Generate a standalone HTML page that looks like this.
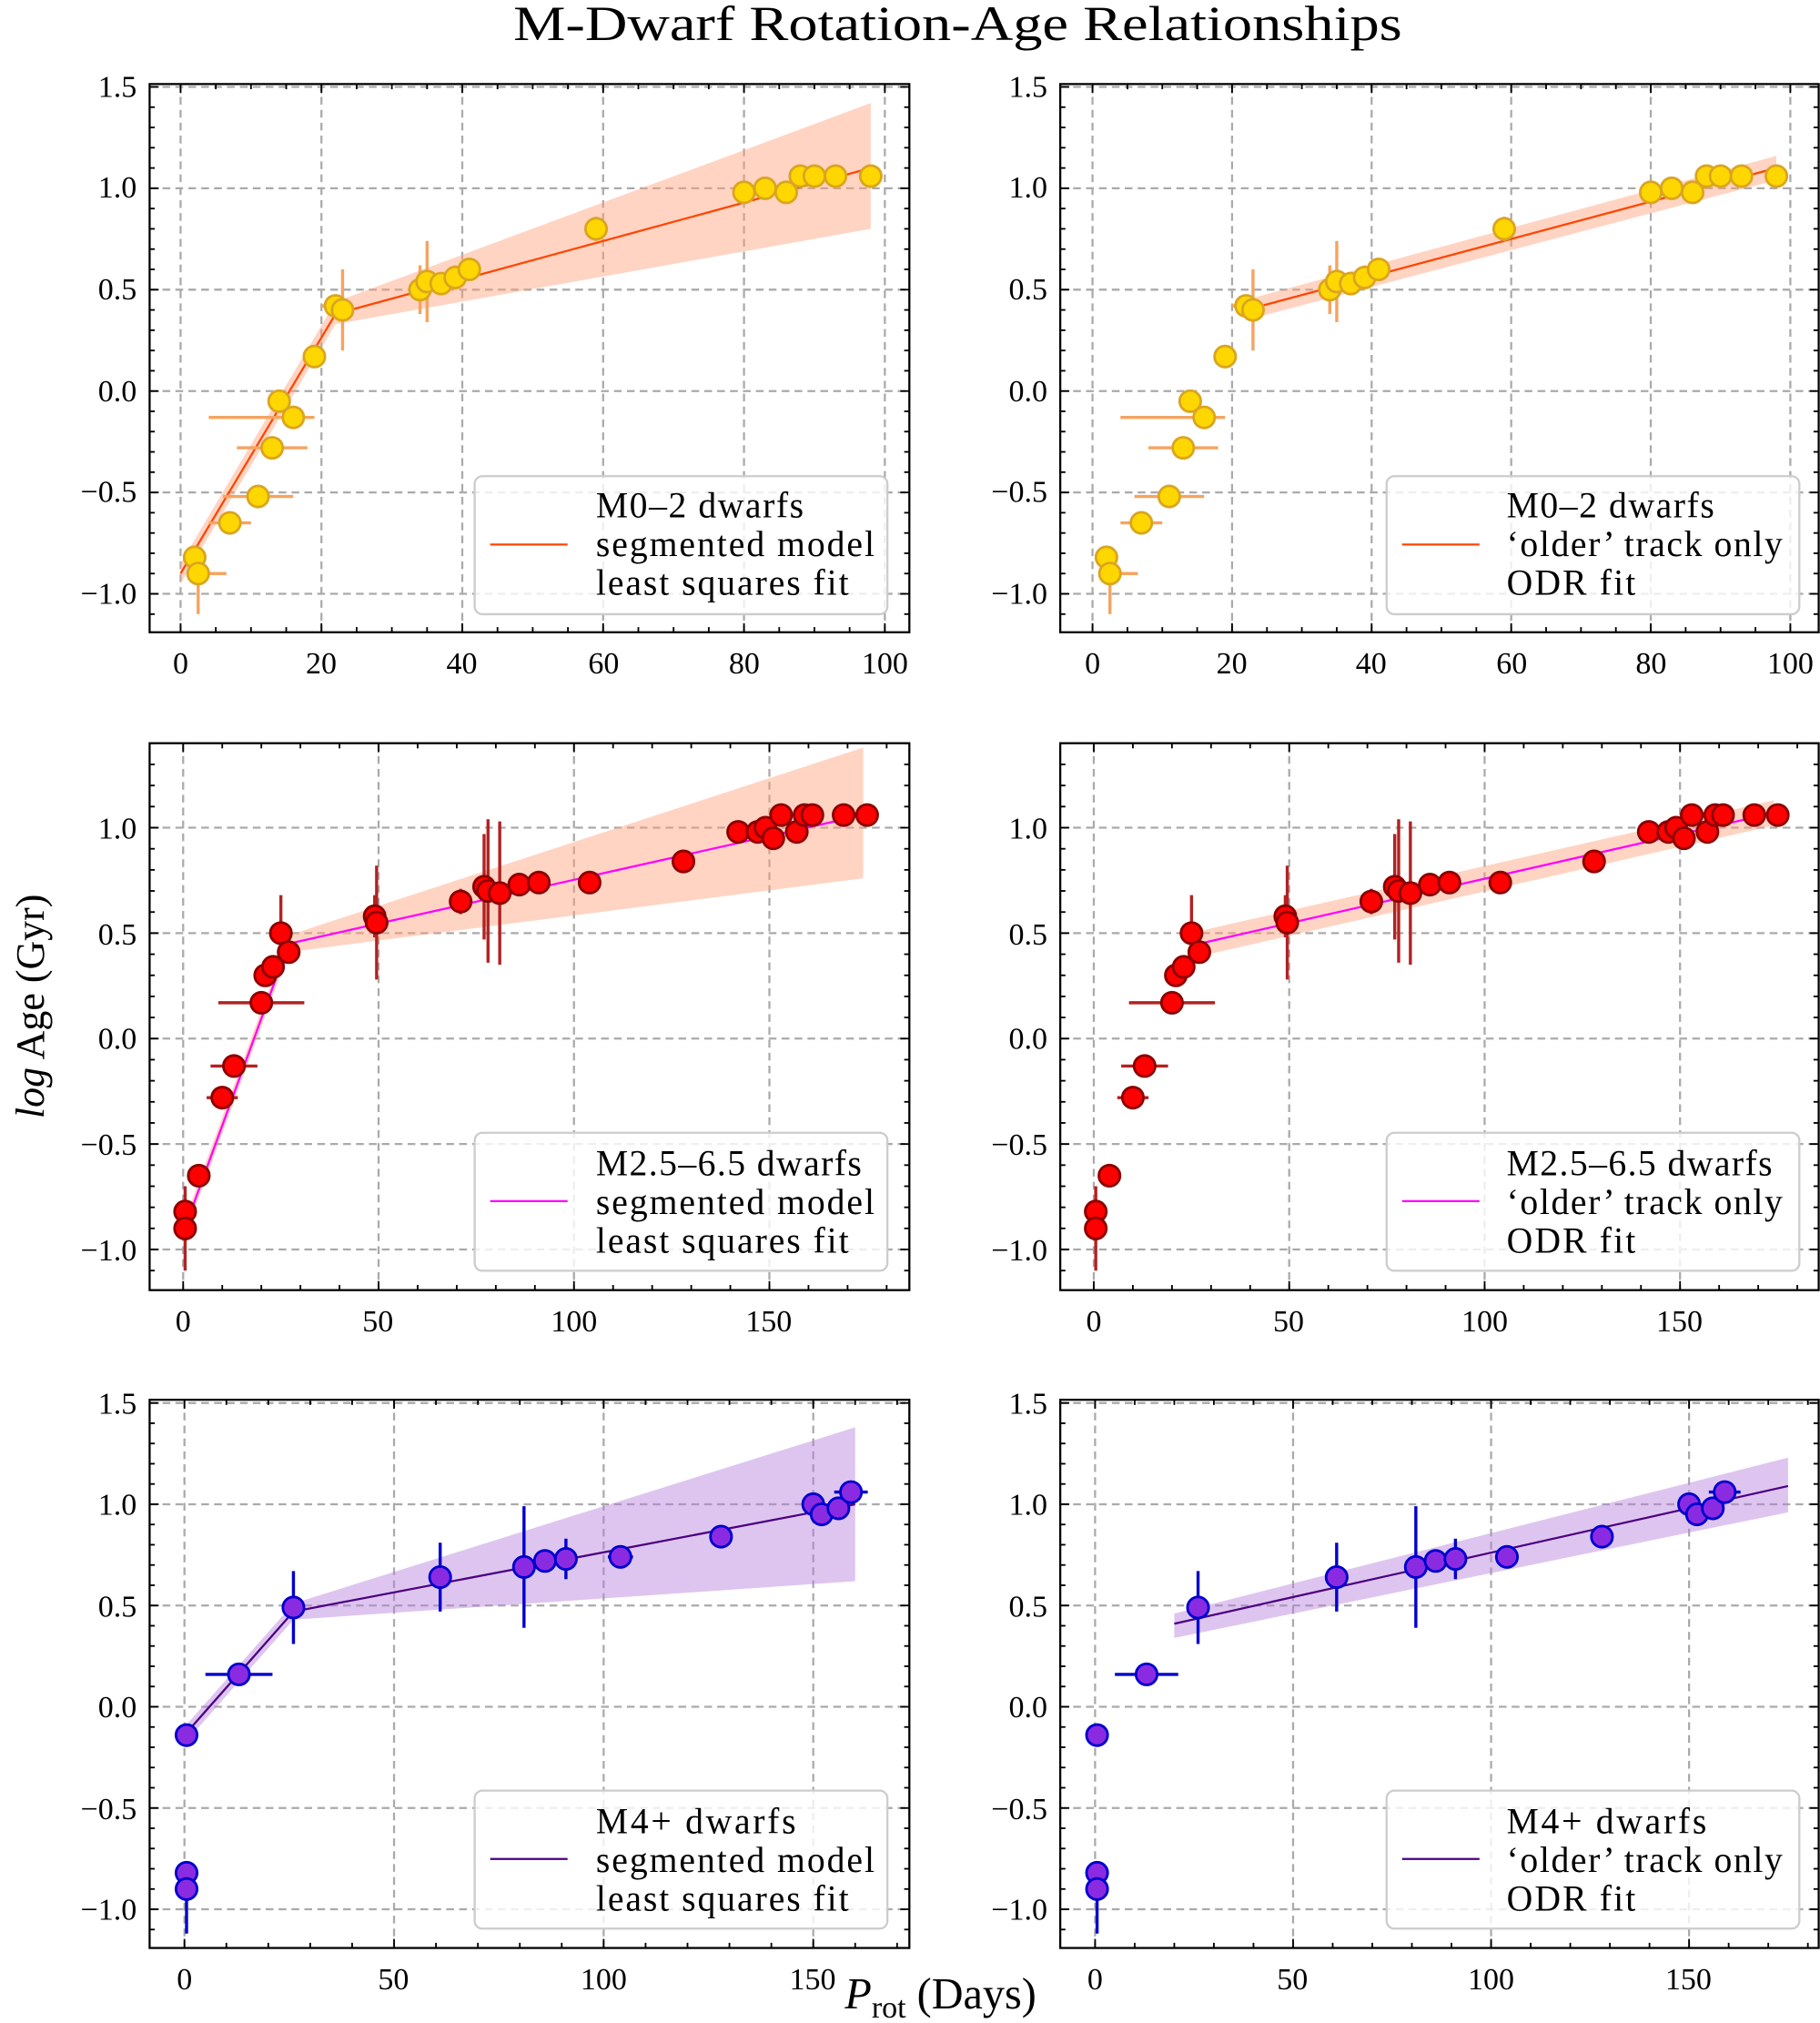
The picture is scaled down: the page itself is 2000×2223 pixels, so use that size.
<!DOCTYPE html>
<html><head><meta charset="utf-8"><style>
html,body{margin:0;padding:0;background:#fff;}
svg{display:block;}
text{font-family:"Liberation Serif","DejaVu Serif",serif;fill:#000;}
.t{font-size:24px;}
.lg{font-size:28px;}
</style></head><body>
<svg id="s" width="2000" height="2223" viewBox="0 0 1411 1568" xmlns="http://www.w3.org/2000/svg">
<rect width="1411" height="1568" fill="#fff"/>
<g id="plots"></g>
<text x="398" y="31" font-size="38" textLength="689" lengthAdjust="spacingAndGlyphs">M-Dwarf Rotation-Age Relationships</text>
<text transform="translate(34,780) rotate(-90)" font-size="31" text-anchor="middle"><tspan font-style="italic">log</tspan> Age (Gyr)</text>
<text x="655" y="1557" font-size="34"><tspan font-style="italic">P</tspan><tspan font-size="24" dy="7">rot</tspan><tspan dy="-7"> (Days)</tspan></text>

<g class="t" text-anchor="end">
<text x="106" y="75">1.5</text><text x="106" y="153">1.0</text><text x="106" y="232">0.5</text><text x="106" y="311">0.0</text><text x="106" y="389">−0.5</text><text x="106" y="468">−1.0</text>
<text x="812" y="75">1.5</text><text x="812" y="153">1.0</text><text x="812" y="232">0.5</text><text x="812" y="311">0.0</text><text x="812" y="389">−0.5</text><text x="812" y="468">−1.0</text>
<text x="106" y="650">1.0</text><text x="106" y="732">0.5</text><text x="106" y="813">0.0</text><text x="106" y="895">−0.5</text><text x="106" y="977">−1.0</text>
<text x="812" y="650">1.0</text><text x="812" y="732">0.5</text><text x="812" y="813">0.0</text><text x="812" y="895">−0.5</text><text x="812" y="977">−1.0</text>
<text x="106" y="1096">1.5</text><text x="106" y="1174">1.0</text><text x="106" y="1253">0.5</text><text x="106" y="1331">0.0</text><text x="106" y="1410">−0.5</text><text x="106" y="1488">−1.0</text>
<text x="812" y="1096">1.5</text><text x="812" y="1174">1.0</text><text x="812" y="1253">0.5</text><text x="812" y="1331">0.0</text><text x="812" y="1410">−0.5</text><text x="812" y="1488">−1.0</text>
</g>
<g class="t" text-anchor="middle">
<text x="140" y="522">0</text><text x="249" y="522">20</text><text x="358" y="522">40</text><text x="468" y="522">60</text><text x="577" y="522">80</text><text x="686" y="522">100</text>
<text x="847" y="522">0</text><text x="955" y="522">20</text><text x="1063" y="522">40</text><text x="1172" y="522">60</text><text x="1280" y="522">80</text><text x="1388" y="522">100</text>
<text x="142" y="1032">0</text><text x="293" y="1032">50</text><text x="445" y="1032">100</text><text x="596" y="1032">150</text>
<text x="848" y="1032">0</text><text x="999" y="1032">50</text><text x="1151" y="1032">100</text><text x="1302" y="1032">150</text>
<text x="143" y="1542">0</text><text x="305" y="1542">50</text><text x="468" y="1542">100</text><text x="630" y="1542">150</text>
<text x="849" y="1542">0</text><text x="1002" y="1542">50</text><text x="1156" y="1542">100</text><text x="1309" y="1542">150</text>
</g>
<g id="legends"></g>
<g class="lg" lengthAdjust="spacingAndGlyphs">
<text x="462" y="401" textLength="161">M0–2 dwarfs</text><text x="462" y="431" textLength="216">segmented model</text><text x="462" y="461" textLength="196">least squares fit</text>
<text x="1168" y="401" textLength="161">M0–2 dwarfs</text><text x="1168" y="431" textLength="214">‘older’ track only</text><text x="1168" y="461" textLength="100">ODR fit</text>
<text x="462" y="911" textLength="206">M2.5–6.5 dwarfs</text><text x="462" y="941" textLength="216">segmented model</text><text x="462" y="971" textLength="196">least squares fit</text>
<text x="1168" y="911" textLength="206">M2.5–6.5 dwarfs</text><text x="1168" y="941" textLength="214">‘older’ track only</text><text x="1168" y="971" textLength="100">ODR fit</text>
<text x="462" y="1421" textLength="155">M4+ dwarfs</text><text x="462" y="1451" textLength="216">segmented model</text><text x="462" y="1481" textLength="196">least squares fit</text>
<text x="1168" y="1421" textLength="155">M4+ dwarfs</text><text x="1168" y="1451" textLength="214">‘older’ track only</text><text x="1168" y="1481" textLength="100">ODR fit</text>
</g>
</svg>
<script>
(function(){
const NS="http://www.w3.org/2000/svg";
const G=document.getElementById('plots'), L=document.getElementById('legends');
function el(p,t,a){const e=document.createElementNS(NS,t);for(const k in a)e.setAttribute(k,a[k]);p.appendChild(e);return e;}
const dTop=[[2,-0.82,0,0],[2.5,-0.9,[0.5,4],[0.2,0.05]],[7,-0.65,3,0],[11,-0.52,[5,5],0.03],[13,-0.28,[5,5],0.03],[14,-0.05,0,0.03],[16,-0.13,[12,3],0.03],[19,0.17,0,0],[22,0.42,2,0.05],[23,0.4,1,0.2],[34,0.5,0,0.12],[35,0.54,0,0.2],[37,0.53,0,0],[39,0.56,0,0.06],[41,0.6,0,0],[59,0.8,0,0.06],[80,0.98,0,0],[83,1.0,0,0.05],[86,0.98,0,0.02],[88,1.06,0,0],[90,1.06,0,0],[93,1.06,0,0],[98,1.06,0,0]];
const dMid=[[0.5,-0.82,0,0],[0.5,-0.9,0,0.2],[4,-0.65,0,0],[10,-0.28,4,0],[13,-0.13,6,0],[20,0.17,11,0],[21,0.3,0,0],[23,0.34,0,0],[25,0.5,0,0.18],[27,0.41,0,0],[49,0.58,0,0.1],[49.5,0.55,0,0.27],[71,0.65,0,0.06],[77,0.72,0,0.25],[78,0.7,0,0.34],[81,0.69,0,0.34],[86,0.73,0,0],[91,0.74,0,0.05],[104,0.74,2,0],[128,0.84,0,0],[142,0.98,0,0],[147,0.98,0,0],[149,1.0,0,0],[151,0.95,0,0],[153,1.06,0,0],[157,0.98,0,0.05],[159,1.06,0,0],[161,1.06,0,0],[169,1.06,0,0],[175,1.06,0,0]];
const dBot=[[0.5,-0.82,0,0],[0.5,-0.9,0,[0.22,0.05]],[0.5,-0.14,0,0.05],[13,0.16,8,0],[26,0.49,0,0.18],[61,0.64,0,0.17],[81,0.69,0,0.3],[86,0.72,0,0],[91,0.73,0,0.1],[104,0.74,3,0],[128,0.84,0,0],[150,1.0,0,0],[152,0.95,0,0],[156,0.98,0,0],[159,1.06,4,0]];
const P=[
 {b:[116,65,705,490],x0:140,xs:5.46,y0:303,ys:157.2,xt:20,xm:5,yt:[-1,1.5],d:dTop,fc:'#ffd700',ec:'#daa520',erc:'#f4a460',lc:'#ff4500',bc:'#ffa07a',
  line:[[0,-0.9],[22,0.38],[98,1.1]],band:[[0,-0.95,-0.85],[22,0.33,0.44],[98,0.8,1.42]]},
 {b:[822,65,1410,490],x0:847,xs:5.41,y0:303,ys:157.2,xt:20,xm:5,yt:[-1,1.5],d:dTop,fc:'#ffd700',ec:'#daa520',erc:'#f4a460',lc:'#ff4500',bc:'#ffa07a',
  line:[[22,0.4],[98,1.1]],band:[[22,0.35,0.45],[98,1.04,1.16]]},
 {b:[116,576,705,1000],x0:142,xs:3.03,y0:805,ys:163.5,xt:50,xm:10,yt:[-1,1],d:dMid,fc:'#ff0000',ec:'#8b0000',erc:'#b22222',lc:'#ff00ff',bc:'#ffa07a',
  line:[[0,-0.92],[27,0.45],[174,1.06]],band:[[0,-0.96,-0.88],[27,0.41,0.49],[174,0.76,1.38]]},
 {b:[822,576,1410,1000],x0:848,xs:3.03,y0:805,ys:163.5,xt:50,xm:10,yt:[-1,1],d:dMid,fc:'#ff0000',ec:'#8b0000',erc:'#b22222',lc:'#ff00ff',bc:'#ffa07a',
  line:[[27,0.45],[174,1.07]],band:[[27,0.39,0.51],[174,1.01,1.13]]},
 {b:[116,1085,705,1510],x0:143,xs:3.25,y0:1323,ys:157,xt:50,xm:10,yt:[-1,1.5],d:dBot,fc:'#8a2be2',ec:'#0000cd',erc:'#0000cd',lc:'#4b0082',bc:'#b57edc',
  line:[[0,-0.14],[26,0.47],[160,1.0]],band:[[0,-0.18,-0.1],[26,0.43,0.51],[160,0.62,1.38]]},
 {b:[822,1085,1410,1510],x0:849,xs:3.07,y0:1323,ys:157,xt:50,xm:10,yt:[-1,1.5],d:dBot,fc:'#8a2be2',ec:'#0000cd',erc:'#0000cd',lc:'#4b0082',bc:'#b57edc',
  line:[[20,0.41],[175,1.09]],band:[[20,0.34,0.46],[175,0.96,1.23]]}
];
function lh(e){return Array.isArray(e)?e:[e,e];}
P.forEach(function(p,i){
 const x1=p.b[0],y1=p.b[1],x2=p.b[2],y2=p.b[3];
 const X=function(v){return p.x0+p.xs*v;}, Y=function(v){return p.y0-p.ys*v;};
 const g=el(G,'g',{});
 for(let v=0;X(v)<x2;v+=p.xt) el(g,'line',{x1:X(v),x2:X(v),y1:y1,y2:y2,stroke:'#aaa','stroke-width':1.6,'stroke-dasharray':'6,4'});
 for(let v=p.yt[0];v<=p.yt[1]+1e-6;v+=0.5) el(g,'line',{x1:x1,x2:x2,y1:Y(v),y2:Y(v),stroke:'#aaa','stroke-width':1.6,'stroke-dasharray':'6,4'});
 const bd=p.band;
 const pts=bd.map(function(r){return X(r[0])+','+Y(r[2]);}).concat(bd.slice().reverse().map(function(r){return X(r[0])+','+Y(r[1]);}));
 el(g,'polygon',{points:pts.join(' '),fill:p.bc,'fill-opacity':0.45});
 el(g,'polyline',{points:p.line.map(function(r){return X(r[0])+','+Y(r[1]);}).join(' '),fill:'none',stroke:p.lc,'stroke-width':1.6});
 p.d.forEach(function(r){
  if(r[2]){const e=lh(r[2]); el(g,'line',{x1:X(r[0]-e[0]),x2:X(r[0]+e[1]),y1:Y(r[1]),y2:Y(r[1]),stroke:p.erc,'stroke-width':2.4});}
  if(r[3]){const e=lh(r[3]); el(g,'line',{x1:X(r[0]),x2:X(r[0]),y1:Y(r[1]-e[0]),y2:Y(r[1]+e[1]),stroke:p.erc,'stroke-width':2.4});}
 });
 p.d.forEach(function(r){el(g,'circle',{cx:X(r[0]),cy:Y(r[1]),r:8.2,fill:p.fc,stroke:p.ec,'stroke-width':2});});
 for(let v=0;X(v)<x2;v+=p.xm){const mj=Math.abs(v/p.xt-Math.round(v/p.xt))<1e-6, h=mj?7:4;
  el(g,'line',{x1:X(v),x2:X(v),y1:y2,y2:y2-h,stroke:'#000','stroke-width':1.3});
  el(g,'line',{x1:X(v),x2:X(v),y1:y1,y2:y1+h,stroke:'#000','stroke-width':1.3});}
 for(let k=-15;k<=15;k++){const v=k/10, yy=Y(v); if(yy<y1||yy>y2)continue;
  const mj=(k%5===0),h=mj?7:4;
  el(g,'line',{x1:x1,x2:x1+h,y1:yy,y2:yy,stroke:'#000','stroke-width':1.3});
  el(g,'line',{x1:x2,x2:x2-h,y1:yy,y2:yy,stroke:'#000','stroke-width':1.3});}
 el(g,'rect',{x:x1,y:y1,width:x2-x1,height:y2-y1,fill:'none',stroke:'#000','stroke-width':1.6});
 const lx=(i%2?1075:368), ly=[369,369,878,878,1388,1388][i];
 el(L,'rect',{x:lx,y:ly,width:320,height:107,rx:6,fill:'#fff','fill-opacity':0.8,stroke:'#ccc','stroke-width':1.6});
 el(L,'line',{x1:lx+12,x2:lx+72,y1:ly+53,y2:ly+53,stroke:p.lc,'stroke-width':1.6});
});
})();
</script>
</body></html>
